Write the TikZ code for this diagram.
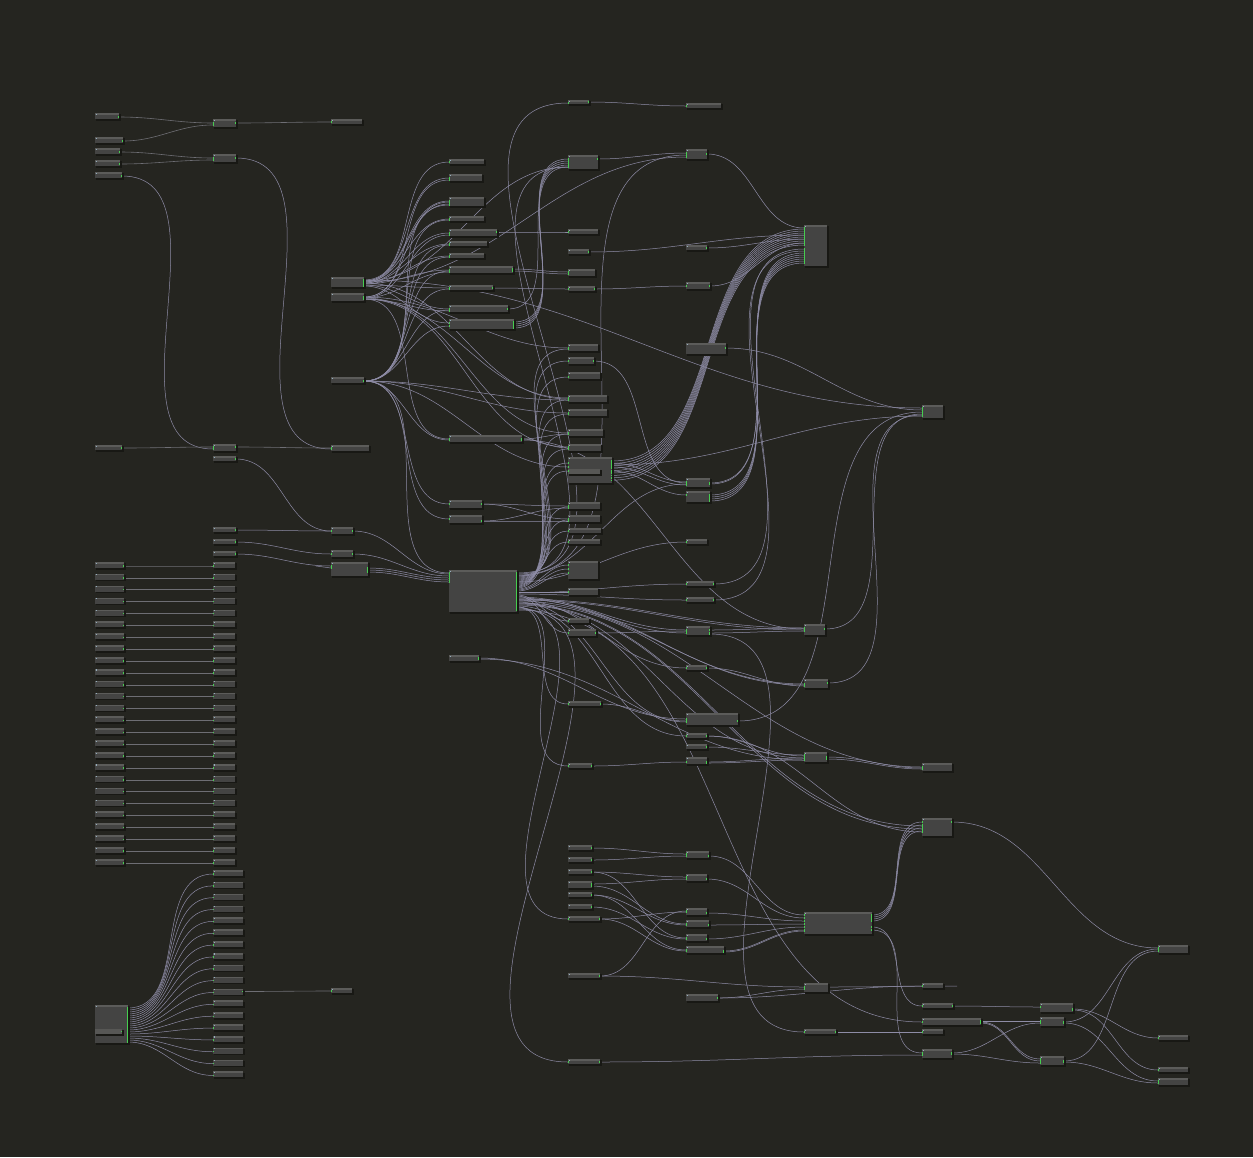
\documentclass[tikz,border=0pt]{standalone}
\definecolor{bgc}{RGB}{37,37,32}
\definecolor{bodyc}{RGB}{68,68,67}
\definecolor{ttlc}{RGB}{92,92,90}
\definecolor{shc}{RGB}{24,24,20}
\definecolor{portc}{RGB}{70,205,80}
\definecolor{edgec}{RGB}{142,140,166}
\definecolor{edgeg}{RGB}{110,110,116}
\definecolor{dotc}{RGB}{150,175,190}
\tikzset{
  nhold/.style={inner sep=0pt,outer sep=0pt,draw=none},
  edge/.style={draw=edgec,line width=0.5pt},
  gedge/.style={draw=edgeg,line width=0.6pt},
  port/.style={fill=portc}
}
\newcommand\Ndef[5]{\node[nhold,minimum width=#4pt,minimum height=#5pt,anchor=north west] (#1) at (#2,#3) {};}
\newcommand\Nvis[5]{%
  \fill[shc] ([xshift=1.2pt,yshift=-1.2pt]#1.north west) rectangle ([xshift=1.6pt,yshift=-1.6pt]#1.south east);
  \fill[bodyc] (#1.north west) rectangle (#1.south east);
  \fill[ttlc] (#1.north west) rectangle ([yshift=-1.6pt]#1.north east);
  \fill[dotc] ([xshift=0.7pt,yshift=-0.5pt]#1.north west) rectangle ++(1.1pt,-1.1pt);}
\newcommand\Ecurve[4]{\draw[edge] ([yshift=-#2pt]#1.north east) to[out=0,in=180] ([yshift=-#4pt]#3.north west);}
\newcommand\Gcurve[4]{\draw[gedge] ([yshift=-#2pt]#1.north east) to[out=0,in=180] ([yshift=-#4pt]#3.north west);}
\newcommand\Eport[4]{%
  \fill[port] ([yshift=-#2pt]#1.north east) ++(-1.2pt,-0.7pt) rectangle ++(1.2pt,1.4pt);
  \fill[port] ([yshift=-#4pt]#3.north west) ++(0pt,-0.7pt) rectangle ++(1.2pt,1.4pt);}
\newcommand\nodelist{%
\N{a1}{95}{113}{24}{6}\N{a2}{95}{137}{28}{6}\N{a3}{95}{148}{25}{6}\N{a4}{95}{160}{25}{6}\N{a5}{95}{172}{27}{6}
\N{b1}{213}{119}{23}{8}\N{b2}{213}{154}{23}{8}
\N{c1}{331}{119}{31}{5}
\N{d0}{95}{445}{27}{5}\N{d1}{213}{444}{23}{7}\N{d2}{213}{456}{23}{5}\N{d3}{331}{445}{38}{6}
\N{e1}{213}{527}{23}{5}\N{e2}{213}{539}{23}{5}\N{e3}{213}{551}{23}{5}
\N{f1}{331}{527}{22}{7}\N{f2}{331}{550}{22}{7}\N{f3}{331}{562}{37}{14}
\foreach \i in {0,...,25}{\pgfmathsetmacro\yy{562+\i*11.88}\N{L\i}{95}{\yy}{29}{6}\N{R\i}{213}{\yy}{22}{6}}
\N{D}{95}{1005}{33}{38}
\N{qx}{331}{988}{21}{5}
\foreach \i in {0,...,17}{\pgfmathsetmacro\yy{870+\i*11.85}\N{Q\i}{213}{\yy}{30}{6}}
\N{P1}{331}{277}{33}{10}\N{P2}{331}{293}{33}{8}\N{P3}{331}{377}{33}{6}
\N{g1}{449}{159}{35}{5}\N{g2}{449}{174}{33}{7}\N{g3}{449}{197}{35}{9}\N{g4}{449}{216}{35}{5}
\N{g5}{449}{229}{48}{7}\N{g6}{449}{241}{38}{5}\N{g7}{449}{253}{35}{5}\N{g8}{449}{266}{64}{7}
\N{g9}{449}{285}{44}{5}\N{g10}{449}{305}{59}{7}\N{g11}{449}{319}{65}{10}\N{g12}{449}{435}{73}{7}
\N{g13}{449}{500}{33}{8}\N{g14}{449}{515}{33}{8}\N{BIG}{449}{570}{68}{42}\N{g15}{449}{655}{30}{6}
\N{h1}{568}{100}{21}{4}\N{h2}{568}{155}{30}{14}\N{h3}{568}{229}{30}{5}\N{h4}{568}{249}{21}{5}
\N{h5}{568}{269}{27}{7}\N{h6}{568}{286}{27}{5}\N{h7}{568}{344}{30}{7}\N{h8}{568}{357}{26}{7}
\N{h9}{568}{372}{32}{7}\N{h10}{568}{395}{39}{7}\N{h11}{568}{409}{39}{7}\N{h12}{568}{429}{35}{7}
\N{h13}{568}{444}{33}{7}\N{H}{568}{457}{44}{26}
\N{h14}{568}{502}{32}{7}\N{h15}{568}{515}{32}{7}\N{h16}{568}{528}{33}{5}\N{h17}{568}{539}{32}{5}
\N{h18}{568}{561}{30}{18}\N{h19}{568}{588}{30}{7}\N{h20}{568}{618}{21}{5}\N{h21}{568}{629}{28}{7}
\N{h22}{568}{701}{33}{5}\N{h23}{568}{763}{24}{5}
\N{k1}{568}{845}{24}{5}\N{k2}{568}{857}{24}{5}\N{k3}{568}{869}{24}{5}\N{k4}{568}{881}{24}{7}
\N{k5}{568}{892}{24}{5}\N{k6}{568}{904}{24}{5}\N{k7}{568}{916}{32}{5}
\N{h24}{568}{973}{32}{5}\N{h25}{568}{1059}{32}{5}
\N{i1}{686}{103}{35}{5}\N{i2}{686}{149}{21}{10}\N{i3}{686}{245}{21}{5}\N{i4}{686}{282}{24}{7}
\N{i5}{686}{343}{40}{11}\N{i6}{686}{478}{24}{9}\N{i7}{686}{491}{24}{11}\N{i8}{686}{539}{21}{5}
\N{i9}{686}{581}{28}{5}\N{i10}{686}{597}{28}{5}\N{i11}{686}{626}{24}{9}\N{i12}{686}{665}{21}{5}
\N{i13}{686}{713}{52}{12}\N{i14}{686}{733}{21}{5}\N{i15}{686}{744}{21}{5}\N{i16}{686}{757}{21}{7}
\N{m1}{686}{851}{23}{7}\N{m2}{686}{874}{21}{7}\N{m3}{686}{908}{21}{7}\N{m4}{686}{920}{23}{7}
\N{m5}{686}{934}{21}{7}\N{m6}{686}{946}{38}{7}\N{i17}{686}{994}{32}{7}
\N{j1}{804}{225}{23}{41}\N{j2}{804}{624}{21}{11}\N{j3}{804}{679}{24}{9}\N{j4}{804}{752}{23}{10}
\N{J}{804}{912}{68}{22}\N{j5}{804}{983}{24}{9}\N{j6}{804}{1029}{32}{5}
\N{n1}{922}{405}{21}{13}\N{n2}{922}{763}{30}{8}\N{n3}{922}{818}{30}{18}\N{n4}{922}{983}{21}{5}
\N{n5}{922}{1003}{31}{5}\N{n6}{922}{1018}{59}{7}\N{n7}{922}{1029}{21}{5}\N{n8}{922}{1049}{30}{9}
\N{o1}{1040}{1003}{33}{9}\N{o2}{1040}{1017}{24}{9}\N{o3}{1040}{1056}{24}{9}
\N{q1}{1158}{945}{30}{8}\N{q2}{1158}{1035}{30}{5}\N{q3}{1158}{1067}{30}{5}\N{q4}{1158}{1078}{30}{7}
}
\newcommand\edgelist{%
\G{a1}{4}{b1}{4}\G{a2}{4}{b1}{6}\G{a3}{4}{b2}{4}\G{a4}{4}{b2}{6}\G{b1}{4}{c1}{3}
\E{a5}{4}{d1}{5}\E{b2}{4}{d3}{4}\G{d0}{3}{d1}{3}\G{d1}{3}{d3}{3}\E{d2}{3}{f1}{4}
\E{e1}{3}{f1}{4}\E{e2}{3}{f2}{4}\E{e3}{3}{f3}{4}
\E{f1}{4}{BIG}{4}\E{f2}{4}{BIG}{6}\E{f3}{6}{BIG}{8}\E{f3}{8}{BIG}{10}\E{f3}{10}{BIG}{12}
\foreach \i in {0,...,25}{\G{L\i}{4}{R\i}{4}}
\foreach \i in {0,...,17}{\pgfmathsetmacro\pp{3+\i*2}\E{D}{\pp}{Q\i}{4}}
\G{Q10}{3}{qx}{3}
\E{P1}{3}{g1}{3}\E{P1}{4}{g2}{4}\E{P1}{4}{g3}{4}\E{P1}{5}{g3}{7}\E{P1}{5}{g4}{3}\E{P1}{6}{g5}{4}
\E{P1}{6}{g6}{3}\E{P1}{7}{g7}{3}\E{P1}{7}{g8}{4}\E{P1}{8}{g9}{3}\E{P1}{8}{g10}{4}\E{P1}{9}{g11}{4}
\E{P1}{4}{h2}{12}\E{P1}{3}{n1}{3}\E{P1}{5}{i2}{8}\E{P1}{6}{h10}{4}
\E{P2}{4}{g2}{6}\E{P2}{4}{g3}{5}\E{P2}{5}{g5}{6}\E{P2}{5}{g8}{6}\E{P2}{6}{g10}{6}\E{P2}{6}{g12}{4}
\E{P2}{4}{h7}{4}\E{P2}{5}{h12}{4}\E{P2}{6}{h10}{3}\E{P2}{6}{h13}{3}
\E{P3}{4}{g3}{8}\E{P3}{4}{g4}{4}\E{P3}{4}{g6}{4}\E{P3}{4}{g7}{4}\E{P3}{4}{g8}{5}\E{P3}{4}{g9}{4}
\E{P3}{4}{g10}{5}\E{P3}{4}{g11}{7}\E{P3}{4}{g12}{5}\E{P3}{4}{g13}{4}\E{P3}{4}{g14}{4}
\E{P3}{4}{h10}{5}\E{P3}{4}{h11}{4}\E{P3}{4}{H}{10}\E{P3}{4}{BIG}{3}
\E{g5}{3}{h3}{3}\E{g8}{3}{h5}{3}\E{g8}{5}{h5}{5}\E{g9}{3}{h6}{3}
\E{g10}{4}{h2}{12}\E{g11}{3}{h2}{4}\E{g11}{5}{h2}{6}\E{g11}{7}{h2}{8}\E{g11}{9}{h2}{10}
\E{g12}{4}{h13}{4}\E{g12}{4}{h12}{5}\E{g12}{5}{j2}{5}
\E{g13}{4}{h14}{4}\E{g13}{4}{h15}{4}\E{g14}{6}{h14}{6}\E{g14}{6}{h15}{6}
\E{g15}{3}{i13}{6}\E{g15}{4}{j4}{8}
\E{BIG}{3}{h1}{3}\E{BIG}{4}{h2}{12}\E{BIG}{5}{i2}{6}\E{BIG}{6}{h7}{5}\E{BIG}{6}{i6}{6}
\E{BIG}{7}{h8}{4}\E{BIG}{8}{h9}{5}\E{BIG}{9}{h10}{5}\E{BIG}{10}{h11}{5}\E{BIG}{11}{h12}{5}
\E{BIG}{12}{h13}{5}\E{BIG}{12}{i8}{3}\E{BIG}{13}{H}{6}\E{BIG}{14}{H}{14}\E{BIG}{15}{h14}{5}
\E{BIG}{16}{h15}{5}\E{BIG}{17}{h16}{3}\E{BIG}{18}{h17}{3}\E{BIG}{19}{h18}{4}\E{BIG}{20}{h18}{8}
\E{BIG}{21}{h18}{12}\E{BIG}{22}{h19}{4}\E{BIG}{23}{i9}{3}\E{BIG}{24}{i10}{3}\E{BIG}{25}{h20}{3}
\E{BIG}{26}{h21}{4}\E{BIG}{27}{i11}{4}\E{BIG}{28}{i11}{7}\E{BIG}{29}{j2}{4}\E{BIG}{30}{j2}{6}
\E{BIG}{31}{j3}{5}\E{BIG}{32}{i13}{9}\E{BIG}{33}{n2}{4}\E{BIG}{33}{j4}{6}\E{BIG}{34}{n3}{8}
\E{BIG}{35}{n3}{11}\E{BIG}{36}{i14}{3}\E{BIG}{37}{h22}{3}\E{BIG}{38}{k7}{3}\E{BIG}{39}{h25}{3}
\E{BIG}{40}{n6}{4}\E{BIG}{37}{h23}{3}\E{BIG}{30}{i12}{3}\E{BIG}{29}{j3}{6}
\E{h1}{2}{i1}{3}\E{h2}{4}{i2}{4}\E{h4}{3}{j1}{10}\E{h6}{3}{i4}{4}\E{h8}{4}{i6}{5}
\E{h21}{4}{i11}{5}\E{h22}{3}{i13}{8}\E{h23}{3}{i16}{5}
\foreach \k in {0,...,8}{\pgfmathsetmacro\pa{4+\k*2.4}\pgfmathsetmacro\pb{4+\k*2}\E{H}{\pa}{j1}{\pb}}
\E{H}{6}{i6}{4}\E{H}{10}{i6}{7}\E{H}{14}{i7}{4}\E{H}{8}{n1}{11}
\E{i2}{5}{j1}{3}\E{i3}{3}{j1}{14}\E{i4}{4}{j1}{18}\E{i5}{5}{n1}{5}
\E{i6}{5}{j1}{28}\E{i6}{6}{j1}{30}
\E{i7}{4}{j1}{32}\E{i7}{6}{j1}{34}\E{i7}{8}{j1}{36}\E{i7}{10}{j1}{38}
\E{i9}{3}{j1}{24}\E{i10}{3}{j1}{26}
\E{i13}{8}{n1}{7}
\E{i11}{4}{j2}{4}\E{i11}{7}{j2}{7}\E{i11}{8}{j6}{3}\E{i12}{3}{j3}{7}
\E{i14}{3}{j4}{4}\E{i14}{3}{n3}{14}\E{i15}{3}{j4}{3}\E{i16}{5}{j4}{6}\E{i16}{6}{j4}{8}
\E{j2}{5}{n1}{9}\E{j3}{4}{n1}{10}\E{j4}{5}{n2}{5}\E{j4}{7}{n2}{6}
\E{k1}{3}{m1}{3}\E{k2}{3}{m1}{5}\E{k3}{3}{m2}{3}\E{k3}{3}{m5}{4}\E{k4}{3}{m2}{5}\E{k4}{5}{m4}{4}
\E{k5}{3}{m6}{4}\E{k5}{3}{m4}{5}\E{k6}{3}{m5}{5}\E{k7}{3}{m3}{4}\E{k7}{3}{m6}{5}\E{h24}{3}{m3}{3}
\E{m1}{5}{J}{3}\E{m2}{5}{J}{6}\E{m3}{5}{J}{9}\E{m4}{5}{J}{12}\E{m5}{5}{J}{15}\E{m6}{5}{J}{18}\E{m6}{6}{J}{19}
\E{J}{3}{n3}{4}\E{J}{5}{n3}{7}\E{J}{7}{n3}{10}\E{J}{9}{n3}{13}\E{J}{15}{n5}{3}\E{J}{18}{n8}{4}
\E{h24}{3}{j5}{4}\E{i17}{4}{j5}{6}\E{i17}{4}{n4}{3}\E{j6}{3}{n7}{3}\E{h25}{3}{n8}{6}
\E{n3}{4}{q1}{3}
\E{n5}{3}{o1}{4}\E{n6}{3}{o2}{4}\E{n6}{4}{o3}{3}\E{n6}{5}{o3}{5}\E{n8}{4}{o2}{6}\E{n8}{5}{o3}{7}
\E{o1}{6}{q2}{3}\E{o1}{7}{q3}{3}\E{o2}{5}{q1}{4}\E{o2}{6}{q4}{3}\E{o3}{5}{q1}{6}\E{o3}{6}{q4}{5}
}
\begin{document}
\begin{tikzpicture}[x=1pt,y=-1pt]
\fill[bgc] (0,0) rectangle (1253,1157);
\useasboundingbox (0,0) rectangle (1253,1157);
\coordinate (fin) at (316,566);
\coordinate (fout) at (957,986);
% pass 1: invisible named nodes
\let\N\Ndef
\nodelist
% pass 2: connectors
\let\E\Ecurve
\let\G\Gcurve
\edgelist
\draw[edge] (fin) -- ([yshift=-6pt]f3.north west);
\draw[edge] ([yshift=-4pt]j5.north east) to[out=0,in=180] (fout);
% pass 3: node bodies
\let\N\Nvis
\nodelist
\fill[shc] (96.2,1030.2) rectangle (123.6,1035.6);
\fill[ttlc!80!bodyc] (95,1029) rectangle (122,1034);
\fill[portc] (120.8,1031) rectangle (122,1032.4);
\fill[shc] (569.2,470.2) rectangle (601.6,475.6);
\fill[ttlc!80!bodyc] (568,469) rectangle (600,474);
% pass 4: ports
\let\E\Eport
\let\G\Eport
\edgelist
\fill[port] ([yshift=-6pt]f3.north west) ++(0pt,-0.7pt) rectangle ++(1.2pt,1.4pt);
\end{tikzpicture}
\end{document}
